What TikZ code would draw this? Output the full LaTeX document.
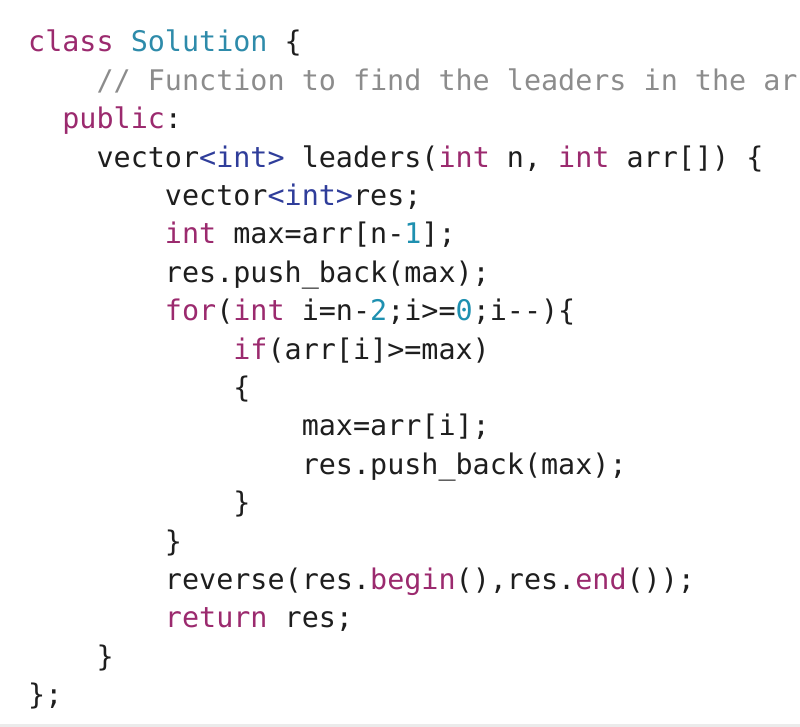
\documentclass[tikz,border=0pt]{standalone}
\usepackage{fontspec}
\setmonofont{DejaVu Sans Mono}
\definecolor{kwcol}{HTML}{9B2A6E}
\definecolor{clscol}{HTML}{2E8BAA}
\definecolor{tycol}{HTML}{2F3D9A}
\definecolor{numcol}{HTML}{1E90B0}
\definecolor{cmtcol}{HTML}{8C8C8C}
\definecolor{txtcol}{HTML}{1E1E1E}
\newcommand{\kw}[1]{\textcolor{kwcol}{#1}}
\newcommand{\ty}[1]{\textcolor{tycol}{#1}}
\newcommand{\nm}[1]{\textcolor{numcol}{#1}}
\tikzset{code/.style={anchor=base west,inner sep=0pt,text=txtcol,
  font=\ttfamily\fontsize{28.4}{38.4}\selectfont}}
\begin{document}
\begin{tikzpicture}[x=1pt,y=1pt]
\useasboundingbox (0,0) rectangle (800,727);
\clip (0,0) rectangle (800,727);

% code lines
\node[code] (l1) at (28,675) {\kw{class} \textcolor{clscol}{Solution} \{};
\node[code] (l2) at (28,636.6) {\textcolor{cmtcol}{\ \ \ \ // Function to find the leaders in the array}};
\node[code] (l3) at (28,598.2) {\ \ \kw{public}:};
\node[code] (l4) at (28,559.8) {\ \ \ \ vector\ty{<int>} leaders(\kw{int} n, \kw{int} arr[]) \{};
\node[code] (l5) at (28,521.4) {\ \ \ \ \ \ \ \ vector\ty{<int>}res;};
\node[code] (l6) at (28,483) {\ \ \ \ \ \ \ \ \kw{int} max=arr[n-\nm{1}];};
\node[code] (l7) at (28,444.6) {\ \ \ \ \ \ \ \ res.push\_back(max);};
\node[code] (l8) at (28,406.2) {\ \ \ \ \ \ \ \ \kw{for}(\kw{int} i=n-\nm{2};i>=\nm{0};i-{}-)\{};
\node[code] (l9) at (28,367.8) {\ \ \ \ \ \ \ \ \ \ \ \ \kw{if}(arr[i]>=max)};
\node[code] (l10) at (28,329.4) {\ \ \ \ \ \ \ \ \ \ \ \ \{};
\node[code] (l11) at (28,291) {\ \ \ \ \ \ \ \ \ \ \ \ \ \ \ \ max=arr[i];};
\node[code] (l12) at (28,252.6) {\ \ \ \ \ \ \ \ \ \ \ \ \ \ \ \ res.push\_back(max);};
\node[code] (l13) at (28,214.2) {\ \ \ \ \ \ \ \ \ \ \ \ \}};
\node[code] (l14) at (28,175.8) {\ \ \ \ \ \ \ \ \}};
\node[code] (l15) at (28,137.4) {\ \ \ \ \ \ \ \ reverse(res.\kw{begin}(),res.\kw{end}());};
\node[code] (l16) at (28,99) {\ \ \ \ \ \ \ \ \kw{return} res;};
\node[code] (l17) at (28,60.6) {\ \ \ \ \}};
\node[code] (l18) at (28,22.2) {\};};

% bottom edge
\fill[black!8] (0,0) rectangle (800,3);
\end{tikzpicture}
\end{document}
